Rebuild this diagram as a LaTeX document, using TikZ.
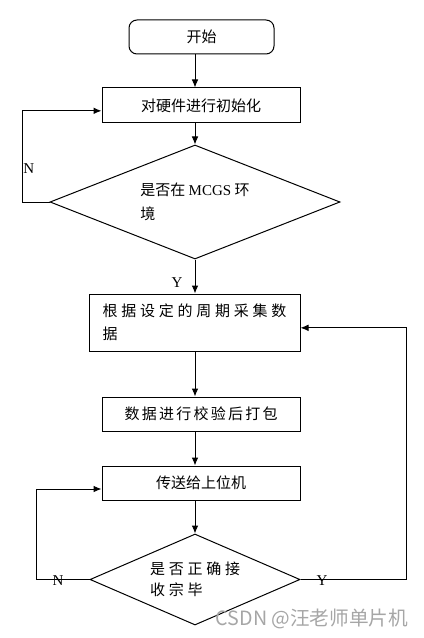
\documentclass[tikz,border=0pt]{standalone}
\usepackage{fontspec}
\setmainfont{Liberation Serif}
\newfontfamily\cjk{Noto Sans CJK SC}
\newfontfamily\cjkwide[LetterSpace=25]{Noto Sans CJK SC}
\newfontfamily\cjkmid[LetterSpace=15]{Noto Sans CJK SC}
\usetikzlibrary{arrows.meta,shapes.geometric}

\begin{document}
\begin{tikzpicture}[>={Latex[length=6pt,width=5pt]},x=0.75pt,y=-0.75pt,line width=0.75pt,
	box/.style={draw,rectangle,inner sep=0pt,
		minimum width=198*0.75pt,minimum height=34*0.75pt,
		font=\cjk\fontsize{11.25}{17}\selectfont},
	test/.style={draw,diamond,inner sep=0pt,align=left,
		font=\cjk\fontsize{11.25}{17}\selectfont},
	yn/.style={inner sep=0pt,font=\fontsize{11.25}{13}\selectfont}]

\def\u{0.75pt}

\useasboundingbox (0,0) rectangle (424,638);

\node[box,rounded corners=6pt,minimum width=145*\u] (start) at (201.5,37) {开始};
\node[box,minimum height=35*\u] (init) at (201,105.5) {对硬件进行初始化};
\node[test,aspect=2.54,minimum width=290*\u,minimum height=114*\u,
	font=\cjk\fontsize{11.25}{18}\selectfont] (env) at (195,202)
	{是否在 {\rmfamily MCGS} 环\\境};
\node[box,align=left,minimum width=211*\u,minimum height=57*\u,
	font=\cjkwide\fontsize{11.25}{17.25}\selectfont] (collect) at (194.5,322.5)
	{根据设定的周期采集数\\据};
\node[box,font=\cjkmid\fontsize{11.25}{17}\selectfont] (pack) at (201,414) {数据进行校验后打包};
\node[box] (send) at (201,483) {传送给上位机};
\node[test,aspect=2.33,minimum width=210*\u,minimum height=91*\u,
	font=\cjkwide\fontsize{11.25}{15.75}\selectfont] (done) at (195,579.5)
	{是否正确接\\收宗毕};

% main line
\draw[->] (start.south -| env.north)--(init.north -| env.north);
\draw[->] (init.south -| env.north)--(env.north);
\draw[->] (env.south)--(collect.north -| env.south);
\draw[->] (collect.south -| env.south)--(pack.north -| env.south);
\draw[->] (pack.south -| env.south)--(send.north -| env.south);
\draw[->] (send.south -| done.north)--(done.north);

% loops back
\draw[->] (env.west)--++(-27,0) |- ([yshift=-4pt]init.west);
\draw[->] (done.west)--++(-53,0) |- ([yshift=-4.5pt]send.west);
\draw[->] (done.east)--++(106,0) |- ([yshift=-4pt]collect.east);

\node[yn,anchor=west] (n1) at (23,169) {N};
\node[yn] (y1) at (177,283) {Y};
\node[yn] (n2) at (58,581) {N};
\node[yn] (y2) at (322,581) {Y};

\node[text=gray!70,font=\cjk\fontsize{14.75}{16}\selectfont] (mark) at (312,619) {CSDN @汪老师单片机};

\end{tikzpicture}
\end{document}
